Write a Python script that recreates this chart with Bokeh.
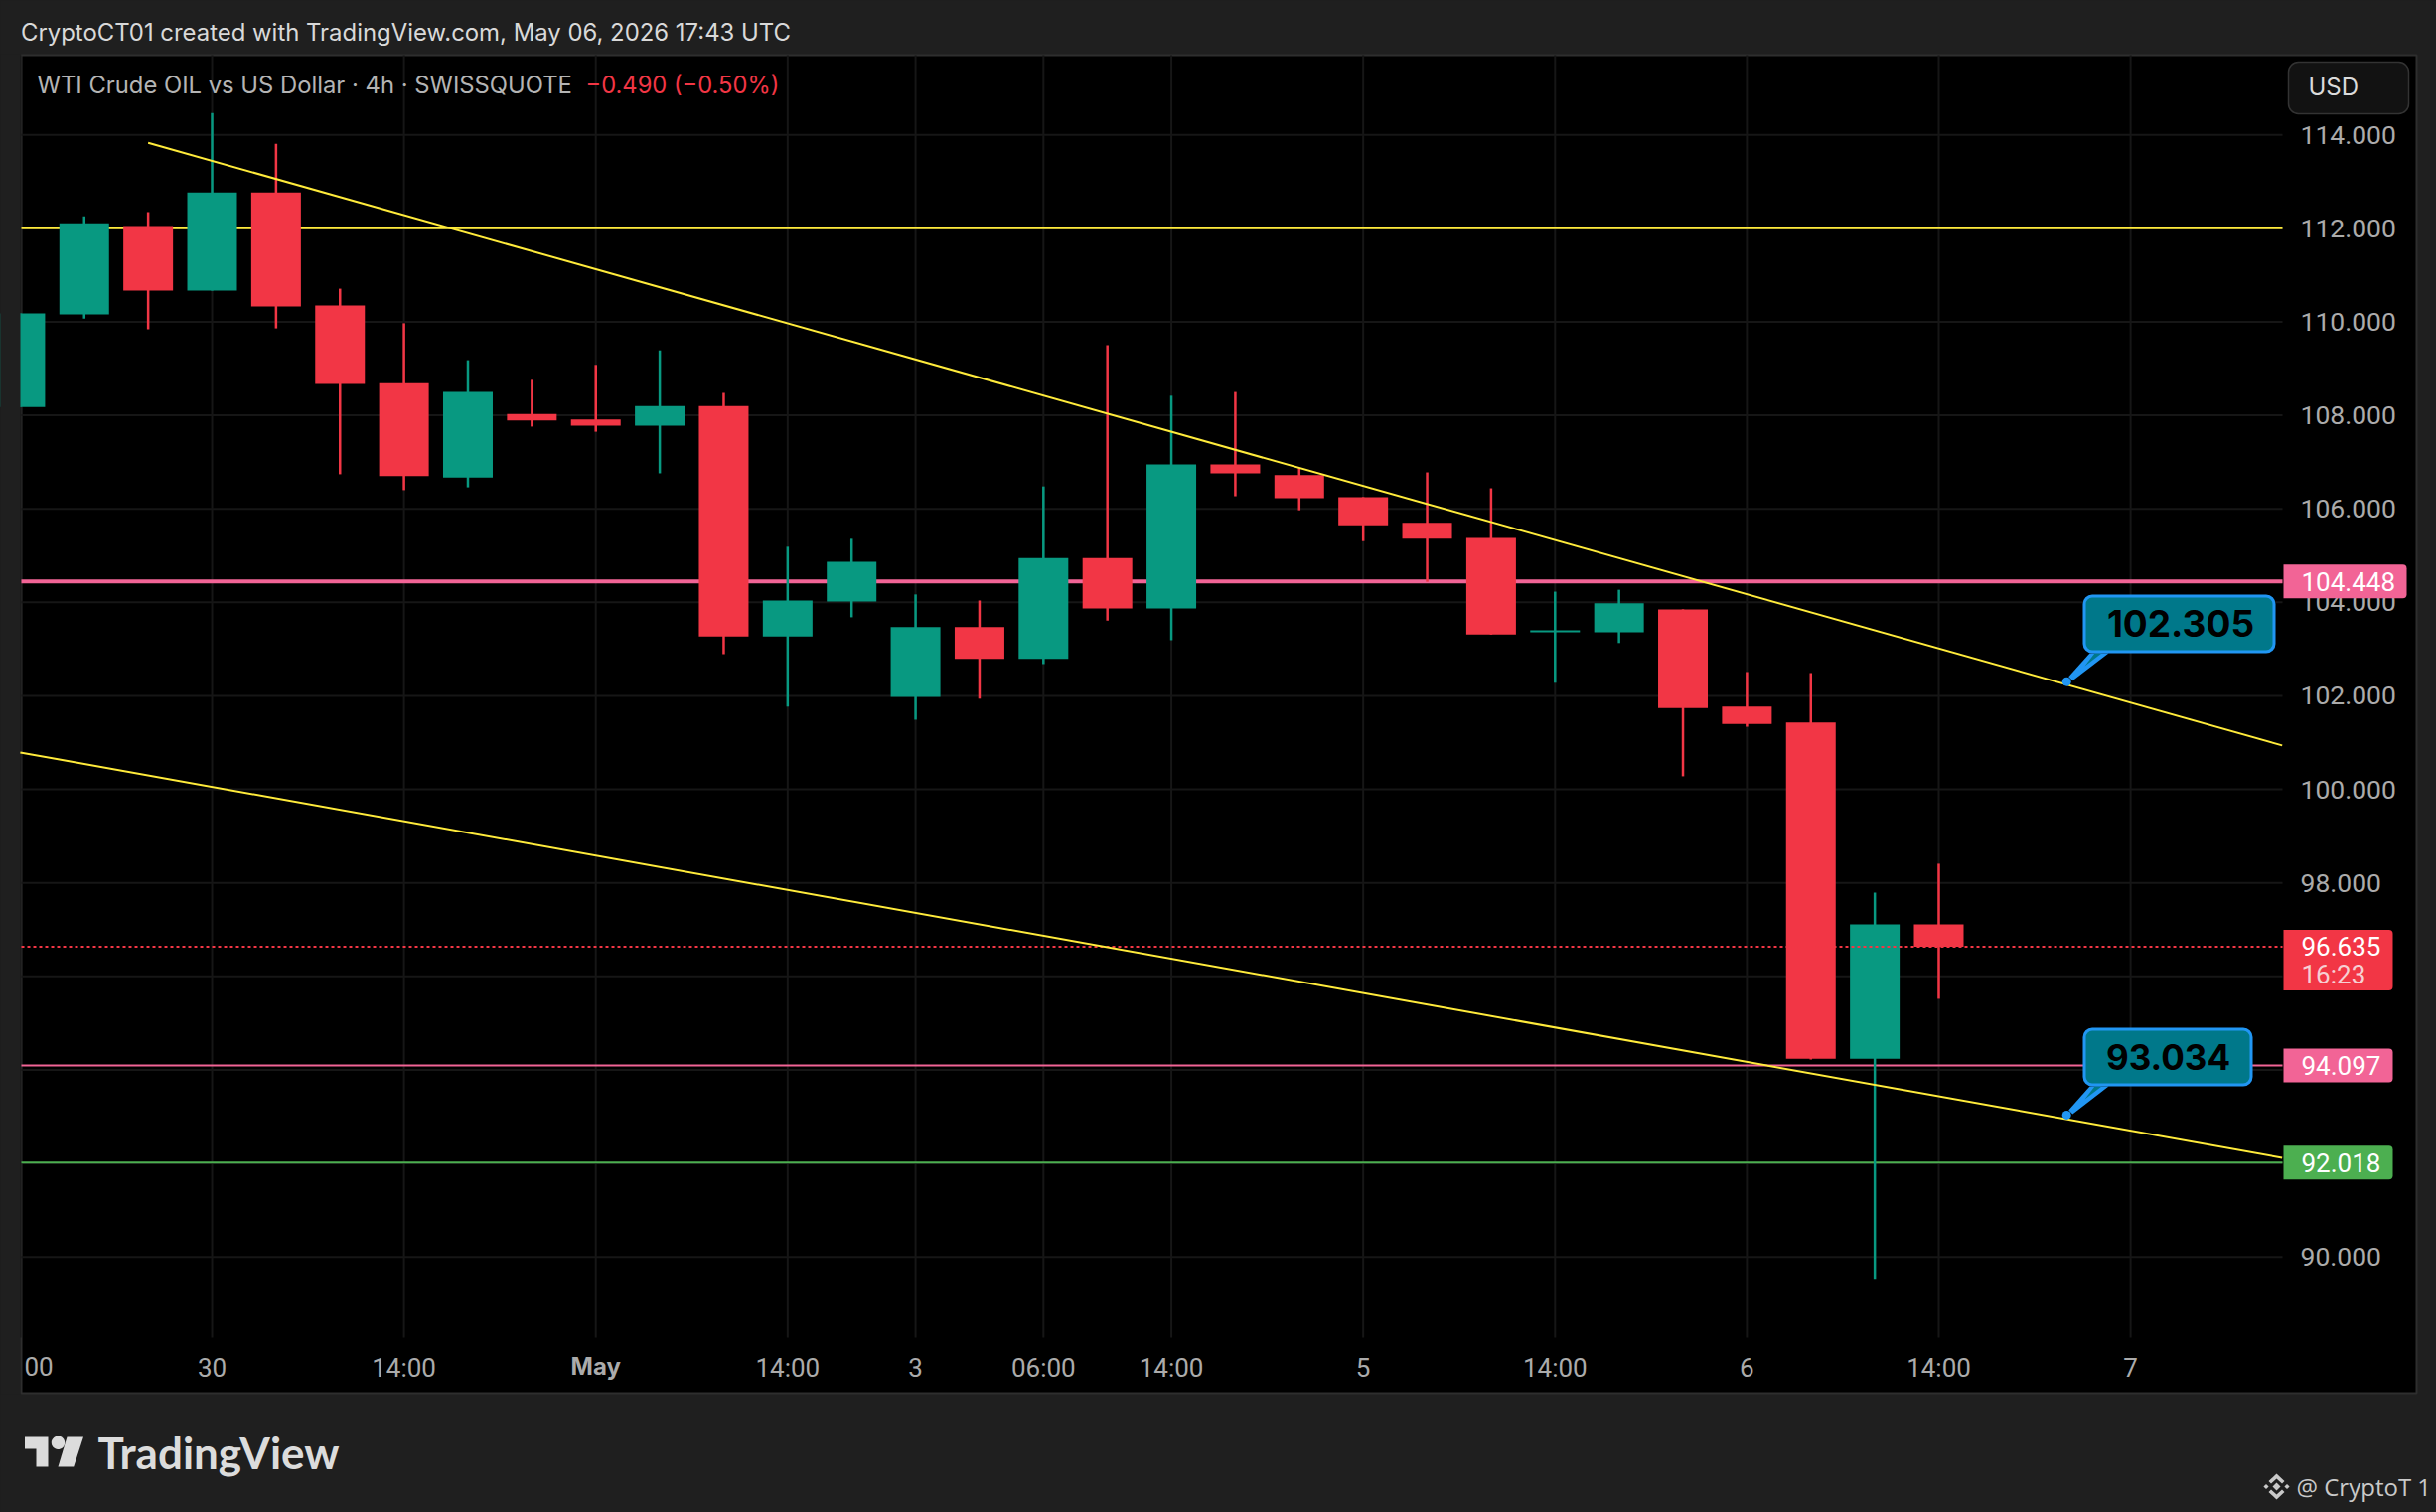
import numpy as np
from bokeh.core.properties import value
from bokeh.embed import file_html
from bokeh.models import (ColumnDataSource, FixedTicker, GlobalInlineStyleSheet,
                          LinearAxis, NumeralTickFormatter, Range1d)
from bokeh.plotting import figure
from bokeh.resources import INLINE

# ---------- data ----------
opens = [108.18, 110.16, 112.05, 110.67, 112.77, 110.35, 108.69, 106.67, 108.03, 107.91, 107.78,
         108.20, 103.27, 104.02, 101.98, 103.47, 102.79, 104.95, 103.87, 106.95, 106.72, 106.25,
         105.70, 105.38, 103.36, 103.36, 103.85, 101.77, 101.43, 94.24, 97.11]
closes = [110.18, 112.11, 110.67, 112.77, 110.33, 108.67, 106.70, 108.50, 107.89, 107.78, 108.20,
          103.27, 104.04, 104.87, 103.47, 102.79, 104.95, 103.87, 106.95, 106.76, 106.23, 105.65,
          105.36, 103.31, 103.40, 103.98, 101.74, 101.40, 94.24, 97.11, 96.635]
highs = [110.18, 112.26, 112.35, 114.47, 113.81, 110.71, 109.97, 109.18, 108.76, 109.08, 109.39,
         108.48, 105.19, 105.36, 104.17, 104.04, 106.48, 109.50, 108.42, 108.50, 106.87, 106.25,
         106.78, 106.44, 104.23, 104.27, 103.85, 102.51, 102.49, 97.79, 98.41]
lows = [108.18, 110.07, 109.84, 110.67, 109.86, 106.74, 106.40, 106.46, 107.76, 107.65, 106.76,
        102.89, 101.77, 103.68, 101.49, 101.94, 102.68, 103.61, 103.19, 106.27, 105.97, 105.31,
        104.44, 103.31, 102.28, 103.13, 100.28, 101.34, 94.22, 89.53, 95.52]

price_ticks = [90, 92, 94, 96, 98, 100, 102, 104, 106, 108, 110, 112, 114]
time_ticks = [3, 6, 12, 14, 16, 18, 21, 24, 27, 30, 33]
time_labels = ["30", "14:00", "14:00", "3", "06:00", "14:00", "5", "14:00", "6", "14:00", "7"]
bar_first_tick, bar_first_label = 0, "00"
month_tick, month_label = 9, "May"

resistance, pink_heavy, pink_light, support, last_price = 112.0, 104.448, 94.097, 92.018, 96.635
trend_upper_idx, trend_upper_price = [2, 35.37], [113.83, 100.94]
trend_lower_idx, trend_lower_price = [0, 35.37], [100.79, 92.12]
callout_idx = 32
callout_upper, callout_lower = 102.305, 93.034

# ---------- page geometry (screenshot px) ----------
BG, BLACK, GRID, EDGE = "#1f1f1f", "#000000", "#161616", "#2e2e2e"
RED, GREEN, PINK, LGREEN, YELLOW, BLUE, TEAL = ("#F23645", "#089981", "#F26496", "#4CAF50",
                                               "#FFEB3B", "#2196F3", "#00788A")
GREY, FONT, NUM = "#ababab", "Inter", "Roboto"
W, H = 2452, 1522
L, R, T, B = 21, 2432, 55, 1402
PANE_R, PANE_B = 2297, 1346


def X(px):
    return (px - 19.9) / 64.37


def PX(i):
    return 19.9 + 64.37 * i


def Y(py):
    return 100 + (794.1 - py) / 47.06


def PY(price):
    return 794.1 - 47.06 * (price - 100)


p = figure(width=W, height=H, output_backend="svg", toolbar_location=None,
           x_range=Range1d(X(0), X(W)), y_range=Range1d(Y(H), Y(0)),
           min_border_left=0, min_border_right=0, min_border_top=0, min_border_bottom=0,
           background_fill_color=BG, border_fill_color=BG, outline_line_color=None)
p.stylesheets = [GlobalInlineStyleSheet(css="html,body{background:%s;margin:0;overflow:hidden}" % BG)]
p.xaxis.visible = False
p.yaxis.visible = False
p.xgrid.visible = False
p.ygrid.visible = False

# chart panel
p.quad(left=[X(L)], right=[X(R)], top=[Y(T)], bottom=[Y(B)], fill_color=BLACK, line_color=EDGE, line_width=2,
       level="underlay")

# grid
v_ticks = [bar_first_tick, month_tick] + time_ticks
p.segment(x0=v_ticks, x1=v_ticks, y0=[Y(PANE_B)] * len(v_ticks), y1=[Y(T)] * len(v_ticks),
          line_color=GRID, line_width=2, level="underlay")
p.segment(x0=[X(L)] * len(price_ticks), x1=[X(PANE_R)] * len(price_ticks), y0=price_ticks, y1=price_ticks,
          line_color=GRID, line_width=2, level="underlay")

# horizontal levels below the candles
x_a, x_b = X(L), X(PANE_R)
p.line([x_a, x_b], [resistance, resistance], line_color=YELLOW, line_width=1.7)
p.line([x_a, x_b], [pink_heavy, pink_heavy], line_color=PINK, line_width=4)
p.line([x_a, x_b], [pink_light, pink_light], line_color=PINK, line_width=2)
p.line([x_a, x_b], [support, support], line_color=LGREEN, line_width=2)

# candles
idx = list(range(len(opens)))
colors = [GREEN if c >= o else RED for o, c in zip(opens, closes)]
src = ColumnDataSource(dict(x=idx, o=opens, c=closes, h=highs, l=lows, col=colors))
p.segment("x", "l", "x", "h", source=src, line_color="col", line_width=2.5)
p.vbar(x="x", bottom="o", top="c", width=50 / 64.37, source=src, fill_color="col", line_color=None)

# page strip that hides what lies left of the panel
p.quad(left=[X(0)], right=[X(L - 1)], top=[Y(T - 1)], bottom=[Y(B + 1)], fill_color=BG, line_color=None)

# lines above the candles
p.line([x_a, x_b], [last_price, last_price], line_color=RED, line_width=2, line_dash="3 3")
p.line(trend_upper_idx, trend_upper_price, line_color=YELLOW, line_width=2)
p.line(trend_lower_idx, trend_lower_price, line_color=YELLOW, line_width=2)


def put(px, py, txt, color=GREY, size=24, align="left", bold=False, font=FONT):
    p.text(x=[X(px)], y=[Y(py)], text=[txt], text_color=color, text_font=value(font),
           text_font_size="%gpx" % size, text_align=align, text_baseline="middle",
           text_font_style="bold" if bold else "normal", level="annotation")


# axes, placed inside the panel
ay = LinearAxis(fixed_location=X(PANE_R), ticker=FixedTicker(ticks=price_ticks),
                formatter=NumeralTickFormatter(format="0.000"),
                axis_line_color=None, major_tick_line_color=None, minor_tick_line_color=None,
                major_label_standoff=12, major_label_text_font=NUM, major_label_text_font_size="26.5px",
                major_label_text_color=GREY, major_label_overrides={96: "", 94: "", 92: ""})
p.add_layout(ay, "right")
ax = LinearAxis(fixed_location=Y(PANE_B), ticker=FixedTicker(ticks=time_ticks),
                major_label_overrides=dict(zip(time_ticks, time_labels)),
                axis_line_color=None, major_tick_line_color=None, minor_tick_line_color=None,
                major_label_standoff=9, major_label_text_font=NUM, major_label_text_font_size="26px",
                major_label_text_color=GREY)
p.add_layout(ax, "below")

put(24, 1375, bar_first_label, font=NUM, size=26)
put(PX(month_tick), 1375, month_label, align="center", bold=True, size=24)

# price tags
tag_vals = [pink_heavy, pink_light, support]
tag_right = [2422, 2408, 2408]
tag_cols = [PINK, PINK, LGREEN]
for v, r, c in zip(tag_vals, tag_right, tag_cols):
    cy = PY(v)
    p.quad(left=[X(2298)], right=[X(r)], top=[Y(cy - 17)], bottom=[Y(cy + 17)], fill_color=c, line_color=None,
           border_radius=(0, 4, 4, 0), level="annotation")
    put(2316, cy, "%.3f" % v, color="#ffffff", font=NUM, size=26)
cy = PY(last_price)
p.quad(left=[X(2298)], right=[X(2408)], top=[Y(cy - 17)], bottom=[Y(cy + 44)], fill_color=RED, line_color=None,
       border_radius=(0, 4, 4, 0), level="annotation")
put(2316, cy, "%.3f" % last_price, color="#ffffff", font=NUM, size=26)
put(2316, cy + 28, "16:23", color="#f6cfd3", font=NUM, size=26)


# callouts
def callout(price, anchor_y, left, right, top, bottom, tx, ty, size):
    a_px = PX(callout_idx)
    p.patch([X(left + 7), X(left + 26), X(a_px + 6), X(a_px + 2)],
            [Y(bottom), Y(bottom), Y(anchor_y - 1), Y(anchor_y - 5)],
            fill_color=BLUE, line_color=None, level="annotation")
    p.patch([X(left + 12), X(left + 19), X(left + 2)],
            [Y(bottom), Y(bottom), Y(bottom + 13)],
            fill_color=TEAL, line_color=None, level="annotation")
    p.scatter([callout_idx], [Y(anchor_y)], size=9, fill_color=BLUE, line_color=None, level="annotation")
    p.quad(left=[X(left + 1.5)], right=[X(right - 1.5)], top=[Y(top + 1.5)], bottom=[Y(bottom - 1.5)],
           fill_color=TEAL, line_color=BLUE, line_width=3, border_radius=8, level="annotation")
    put(tx, ty, "%.3f" % price, color="#000000", size=size, align="center", bold=True)


callout(callout_upper, PY(callout_upper), 2096, 2290, 598, 657, 2194.5, 627, 37)
callout(callout_lower, PY(callout_lower), 2096, 2267, 1034, 1093, 2182, 1063, 35)

# legend and USD button
put(37, 85, "WTI Crude OIL vs US Dollar · 4h · SWISSQUOTE", color="#b4b4b4", size=23.8)
put(589, 85, "−0.490 (−0.50%)", color=RED, size=23.7)
p.quad(left=[X(2303)], right=[X(2424)], top=[Y(62)], bottom=[Y(114)], fill_color="#121212", line_color="#333333",
       line_width=1.5, border_radius=10, level="annotation")
put(2323, 87, "USD", color="#dbdbdb", size=24)

# outer texts
put(20.5, 32, "CryptoCT01 created with TradingView.com, May 06, 2026 17:43 UTC", color="#d9d9d9", size=23.9)
put(98, 1461, "TradingView", color="#dcdcdc", size=44, font="Lato", bold=True)
put(2311, 1496, "@ CryptoT 1", color="#c9c9c9", size=24, font="Open Sans")


def poly(xs, ys, color):
    p.patch([X(v) for v in xs], [Y(v) for v in ys], fill_color=color, line_color=None, level="annotation")


LOGO = "#dcdcdc"
poly([24.5, 48, 48, 36, 36, 24.5], [1446, 1446, 1476, 1476, 1458, 1458], LOGO)
poly([67, 83.5, 73.7, 58], [1446, 1446, 1476, 1476], LOGO)
th = np.linspace(0, 2 * np.pi, 32)
poly(list(58 + 6.7 * np.cos(th)), list(1451.8 + 6.7 * np.sin(th)), LOGO)

# diamond mark beside the handle
IC, cx, cy2 = "#c9c9c9", 2291, 1496
for dx, dy, r in [(-10.5, 0, 2.6), (10.5, 0, 2.6), (0, 0, 4)]:
    poly([cx + dx - r, cx + dx, cx + dx + r, cx + dx], [cy2 + dy, cy2 + dy - r, cy2 + dy, cy2 + dy + r], IC)
poly([cx - 8, cx, cx + 8, cx + 5.5, cx, cx - 5.5], [cy2 - 5.5, cy2 - 13, cy2 - 5.5, cy2 - 3, cy2 - 8, cy2 - 3], IC)
poly([cx - 8, cx, cx + 8, cx + 5.5, cx, cx - 5.5], [cy2 + 5.5, cy2 + 13, cy2 + 5.5, cy2 + 3, cy2 + 8, cy2 + 3], IC)

open("out.html", "w").write(file_html(p, INLINE))
